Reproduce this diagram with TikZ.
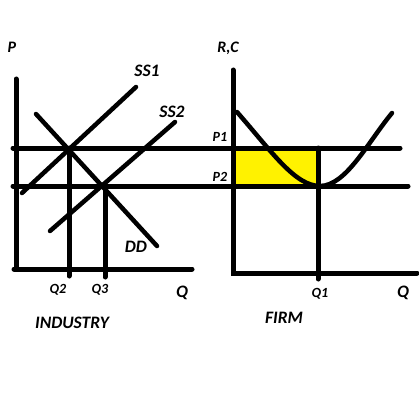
\documentclass[tikz,border=0pt]{standalone}
\usepackage{fontspec}
\setmainfont{Carlito}
\begin{document}
\begin{tikzpicture}[x=1pt,y=-1pt,
  ax/.style={line width=5pt,line cap=round},
  crv/.style={line width=4.5pt,line cap=round},
  lab/.style={anchor=base,inner sep=0pt,font=\bfseries\itshape},
  sm/.style={lab,font=\bfseries\itshape\fontsize{14}{14}\selectfont},
  md/.style={lab,font=\bfseries\itshape\fontsize{16}{16}\selectfont},
  lg/.style={lab,font=\bfseries\itshape\fontsize{17.5}{17.5}\selectfont}]
\useasboundingbox (0,0) rectangle (419,401);
% yellow area
\fill[yellow] (235,150) rectangle (316,185);
% named points
\coordinate (LT) at (16,79);
\coordinate (LO) at (16,269);
\coordinate (LX) at (192,269);
\coordinate (RT) at (233,70);
\coordinate (RO) at (233,273);
\coordinate (RX) at (417,273);
% left axes
\draw[ax] (LT) -- (LO) -- (LX);
\draw[ax] (14,269) -- (LO);
% horizontal price lines
\draw[ax] (13,148) -- (400,148);
\draw[ax] (13,186) -- (408,186);
% supply and demand
\draw[crv] (22,193) -- (136,87);
\draw[crv] (50,231) -- (175,122);
\draw[crv] (36,114) -- (157,246);
% Q2, Q3 verticals
\draw[ax] (69,148) -- (69,276);
\draw[ax] (105,186) -- (105,277);
% right axes
\draw[ax] (RT) -- (RO) -- (RX);
% Q1 vertical
\draw[ax] (318,148) -- (318,279);
% cost curve
\draw[crv] (237,112) .. controls (272,152) and (295,186) .. (320,186)
  .. controls (346,186) and (368,142) .. (392,113);
% labels
\node[md] (p) at (12,53) {P};
\node[lg] (ss1) at (147,77) {SS1};
\node[lg] (ss2) at (172,117) {SS2};
\node[lg] (dd) at (136,252) {DD};
\node[sm] (q2) at (58,293) {Q2};
\node[sm] (q3) at (100,293) {Q3};
\node[lg] (ql) at (182,297) {Q};
\node[lg] (ind) at (72,328) {INDUSTRY};
\node[md] (rc) at (228,53) {R,C};
\node[sm] (p1) at (220,141) {P1};
\node[sm] (p2) at (220,181) {P2};
\node[sm] (q1) at (320,297) {Q1};
\node[lg] (qr) at (403,297) {Q};
\node[lg] (firm) at (284,323) {FIRM};
\end{tikzpicture}
\end{document}
